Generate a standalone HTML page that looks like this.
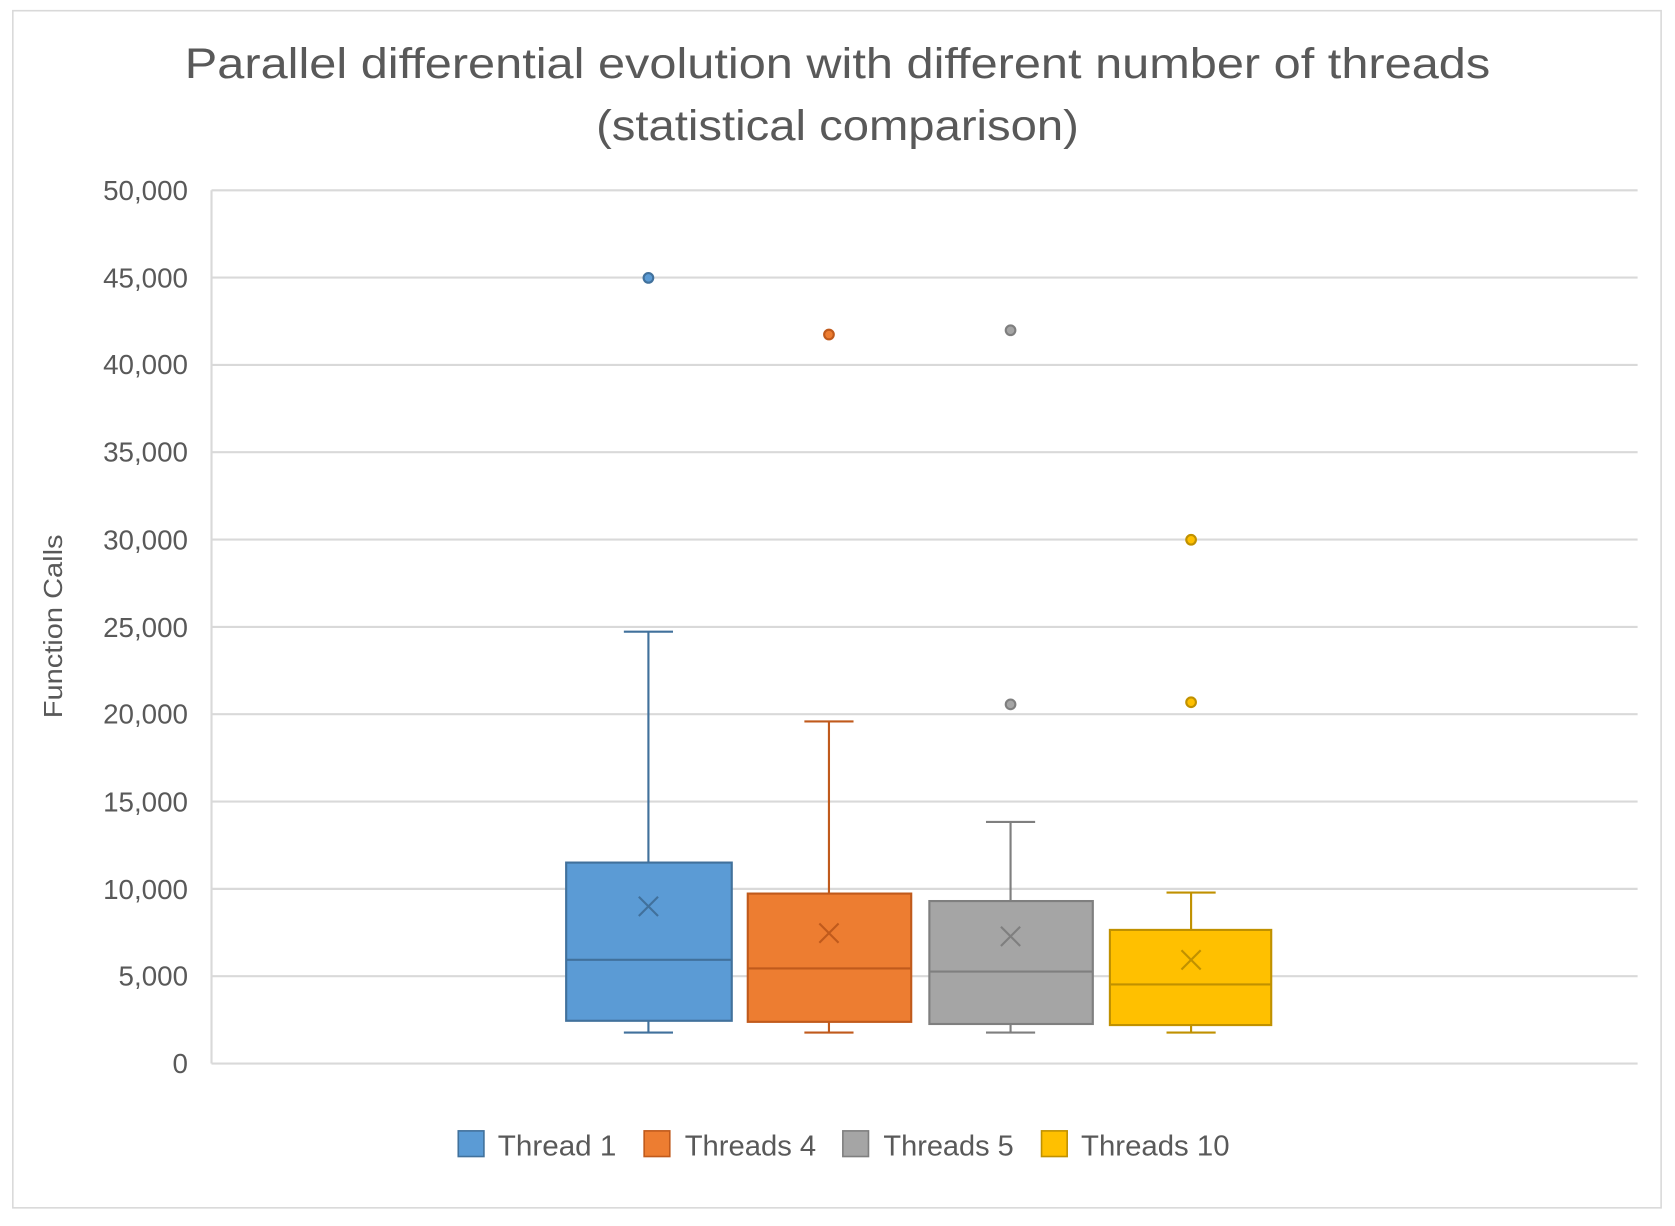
<!DOCTYPE html>
<html><head><meta charset="utf-8"><style>
html,body{margin:0;padding:0;background:#fff;}
svg{display:block;}
text{font-family:"Liberation Sans",sans-serif;fill:#595959;}
</style></head><body>
<svg width="1675" height="1226" viewBox="0 0 1568 1147" preserveAspectRatio="none" xmlns="http://www.w3.org/2000/svg">
<rect x="0" y="0" width="1568" height="1147" fill="#fff"/>
<rect x="12" y="10" width="1543" height="1120" fill="#fff" stroke="#d9d9d9" stroke-width="1.5"/>
<text x="784" y="73" font-size="40" text-anchor="middle" textLength="1222" lengthAdjust="spacingAndGlyphs">Parallel differential evolution with different number of threads</text>
<text x="784" y="131" font-size="40" text-anchor="middle" textLength="452" lengthAdjust="spacingAndGlyphs">(statistical comparison)</text>
<g stroke="#d9d9d9" stroke-width="2">
<line x1="198" x2="1533" y1="178" y2="178"/><line x1="198" x2="1533" y1="259.7" y2="259.7"/>
<line x1="198" x2="1533" y1="341.4" y2="341.4"/><line x1="198" x2="1533" y1="423.1" y2="423.1"/>
<line x1="198" x2="1533" y1="504.8" y2="504.8"/><line x1="198" x2="1533" y1="586.5" y2="586.5"/>
<line x1="198" x2="1533" y1="668.2" y2="668.2"/><line x1="198" x2="1533" y1="749.9" y2="749.9"/>
<line x1="198" x2="1533" y1="831.6" y2="831.6"/><line x1="198" x2="1533" y1="913.3" y2="913.3"/>
<line x1="198" x2="1533" y1="995" y2="995"/>
<line x1="198" x2="198" y1="178" y2="995"/>
</g>
<g font-size="26" text-anchor="end">
<text x="176" y="187">50,000</text><text x="176" y="269">45,000</text><text x="176" y="350">40,000</text>
<text x="176" y="432">35,000</text><text x="176" y="514">30,000</text><text x="176" y="596">25,000</text>
<text x="176" y="677">20,000</text><text x="176" y="759">15,000</text><text x="176" y="841">10,000</text>
<text x="176" y="922">5,000</text><text x="176" y="1004">0</text>
</g>
<text transform="translate(58,586) rotate(-90)" font-size="24" text-anchor="middle" textLength="172" lengthAdjust="spacingAndGlyphs">Function Calls</text>
<g stroke="#41719c" stroke-width="2" fill="none">
<line x1="607" x2="607" y1="591" y2="807"/><line x1="584" x2="630" y1="591" y2="591"/>
<line x1="607" x2="607" y1="955" y2="966"/><line x1="584" x2="630" y1="966" y2="966"/>
<rect x="530" y="807" width="155" height="148" fill="#5b9bd5"/>
<line x1="530" x2="685" y1="898" y2="898"/>
<path d="M598 839 L616 857 M616 839 L598 857"/>
<circle cx="607" cy="260" r="4.5" fill="#5b9bd5"/>
</g>
<g stroke="#c05a1c" stroke-width="2" fill="none">
<line x1="776" x2="776" y1="675" y2="836"/><line x1="753" x2="799" y1="675" y2="675"/>
<line x1="776" x2="776" y1="956" y2="966"/><line x1="753" x2="799" y1="966" y2="966"/>
<rect x="700" y="836" width="153" height="120" fill="#ed7d31"/>
<line x1="700" x2="853" y1="906" y2="906"/>
<path d="M767 864 L785 882 M785 864 L767 882"/>
<circle cx="776" cy="313" r="4.5" fill="#ed7d31"/>
</g>
<g stroke="#7f7f7f" stroke-width="2" fill="none">
<line x1="946" x2="946" y1="769" y2="843"/><line x1="923" x2="969" y1="769" y2="769"/>
<line x1="946" x2="946" y1="958" y2="966"/><line x1="923" x2="969" y1="966" y2="966"/>
<rect x="870" y="843" width="153" height="115" fill="#a5a5a5"/>
<line x1="870" x2="1023" y1="909" y2="909"/>
<path d="M937 867 L955 885 M955 867 L937 885"/>
<circle cx="946" cy="309" r="4.5" fill="#a5a5a5"/>
<circle cx="946" cy="659" r="4.5" fill="#a5a5a5"/>
</g>
<g stroke="#c09100" stroke-width="2" fill="none">
<line x1="1115" x2="1115" y1="835" y2="870"/><line x1="1092" x2="1138" y1="835" y2="835"/>
<line x1="1115" x2="1115" y1="959" y2="966"/><line x1="1092" x2="1138" y1="966" y2="966"/>
<rect x="1039" y="870" width="151" height="89" fill="#ffc000"/>
<line x1="1039" x2="1190" y1="921" y2="921"/>
<path d="M1106 889 L1124 907 M1124 889 L1106 907"/>
<circle cx="1115" cy="505" r="4.5" fill="#ffc000"/>
<circle cx="1115" cy="657" r="4.5" fill="#ffc000"/>
</g>
<g font-size="27">
<rect x="429" y="1058" width="24" height="24" fill="#5b9bd5" stroke="#41719c" stroke-width="1.5"/>
<text x="466" y="1081" textLength="111" lengthAdjust="spacingAndGlyphs">Thread 1</text>
<rect x="603" y="1058" width="24" height="24" fill="#ed7d31" stroke="#c05a1c" stroke-width="1.5"/>
<text x="641" y="1081" textLength="123" lengthAdjust="spacingAndGlyphs">Threads 4</text>
<rect x="789" y="1058" width="24" height="24" fill="#a5a5a5" stroke="#7f7f7f" stroke-width="1.5"/>
<text x="827" y="1081" textLength="122" lengthAdjust="spacingAndGlyphs">Threads 5</text>
<rect x="975" y="1058" width="24" height="24" fill="#ffc000" stroke="#c09100" stroke-width="1.5"/>
<text x="1012" y="1081" textLength="139" lengthAdjust="spacingAndGlyphs">Threads 10</text>
</g>
</svg>
</body></html>
